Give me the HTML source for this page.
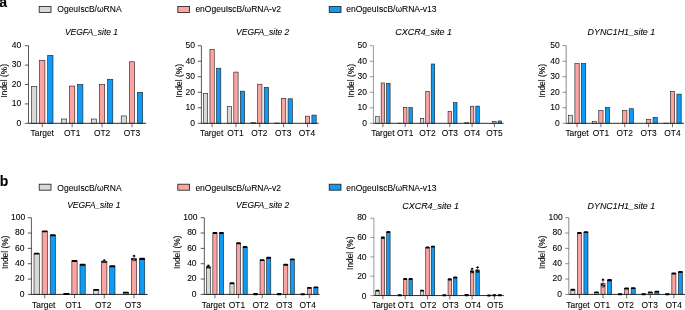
<!DOCTYPE html>
<html><head><meta charset="utf-8"><title>Indel figure</title>
<style>
html,body{margin:0;padding:0;background:#fff;}
svg{display:block;font-family:"Liberation Sans",Arial,sans-serif;fill:#000;}
text{stroke:#000;stroke-width:0.08px;}
</style></head><body>
<svg width="685" height="310" viewBox="0 0 685 310">
<rect x="0" y="0" width="685" height="310" fill="#fff"/>
<rect x="31.50" y="86.44" width="5.30" height="36.86" fill="#d8d8d7" stroke="#1a1a1a" stroke-width="0.6"/>
<rect x="39.60" y="60.25" width="5.30" height="63.05" fill="#faa4a4" stroke="#1a1a1a" stroke-width="0.6"/>
<rect x="47.70" y="55.40" width="5.30" height="67.90" fill="#109af4" stroke="#1a1a1a" stroke-width="0.6"/>
<rect x="61.40" y="119.03" width="5.30" height="4.27" fill="#d8d8d7" stroke="#1a1a1a" stroke-width="0.6"/>
<rect x="69.50" y="86.05" width="5.30" height="37.25" fill="#faa4a4" stroke="#1a1a1a" stroke-width="0.6"/>
<rect x="77.60" y="84.50" width="5.30" height="38.80" fill="#109af4" stroke="#1a1a1a" stroke-width="0.6"/>
<rect x="91.30" y="119.03" width="5.30" height="4.27" fill="#d8d8d7" stroke="#1a1a1a" stroke-width="0.6"/>
<rect x="99.40" y="84.50" width="5.30" height="38.80" fill="#faa4a4" stroke="#1a1a1a" stroke-width="0.6"/>
<rect x="107.50" y="79.26" width="5.30" height="44.04" fill="#109af4" stroke="#1a1a1a" stroke-width="0.6"/>
<rect x="121.20" y="115.93" width="5.30" height="7.37" fill="#d8d8d7" stroke="#1a1a1a" stroke-width="0.6"/>
<rect x="129.30" y="61.80" width="5.30" height="61.50" fill="#faa4a4" stroke="#1a1a1a" stroke-width="0.6"/>
<rect x="137.40" y="92.26" width="5.30" height="31.04" fill="#109af4" stroke="#1a1a1a" stroke-width="0.6"/>
<path d="M28.10 123.30H146.10" stroke="#222" stroke-width="0.95" fill="none"/>
<text x="21.20" y="125.65" font-size="8.5" text-anchor="end" >0</text>
<text x="21.20" y="106.25" font-size="8.5" text-anchor="end" >10</text>
<text x="21.20" y="86.85" font-size="8.5" text-anchor="end" >20</text>
<text x="21.20" y="67.45" font-size="8.5" text-anchor="end" >30</text>
<text x="21.20" y="48.05" font-size="8.5" text-anchor="end" >40</text>
<text x="42.25" y="136.20" font-size="8.4" text-anchor="middle" >Target</text>
<text x="72.15" y="136.20" font-size="8.4" text-anchor="middle" >OT1</text>
<text x="102.05" y="136.20" font-size="8.4" text-anchor="middle" >OT2</text>
<text x="131.95" y="136.20" font-size="8.4" text-anchor="middle" >OT3</text>
<path d="M28.50 45.70V123.30M24.90 123.30H28.50M24.90 103.90H28.50M24.90 84.50H28.50M24.90 65.10H28.50M24.90 45.70H28.50" stroke="#222" stroke-width="0.75" fill="none"/>
<path d="M42.25 123.30v3.9M72.15 123.30v3.9M102.05 123.30v3.9M131.95 123.30v3.9" stroke="#4a4448" stroke-width="0.8" fill="none"/>
<text x="91.50" y="34.80" font-size="8.5" text-anchor="middle" font-style="italic">VEGFA_site 1</text>
<text transform="translate(7.00 80.80) rotate(-90)" font-size="8.4" text-anchor="middle">Indel (%)</text>
<rect x="203.40" y="93.50" width="4.30" height="29.80" fill="#d8d8d7" stroke="#1a1a1a" stroke-width="0.6"/>
<rect x="209.95" y="49.58" width="4.30" height="73.72" fill="#faa4a4" stroke="#1a1a1a" stroke-width="0.6"/>
<rect x="216.50" y="68.20" width="4.30" height="55.10" fill="#109af4" stroke="#1a1a1a" stroke-width="0.6"/>
<rect x="227.25" y="106.54" width="4.30" height="16.76" fill="#d8d8d7" stroke="#1a1a1a" stroke-width="0.6"/>
<rect x="233.80" y="72.08" width="4.30" height="51.22" fill="#faa4a4" stroke="#1a1a1a" stroke-width="0.6"/>
<rect x="240.35" y="91.17" width="4.30" height="32.13" fill="#109af4" stroke="#1a1a1a" stroke-width="0.6"/>
<rect x="251.10" y="122.37" width="4.30" height="0.93" fill="#d8d8d7" stroke="#1a1a1a" stroke-width="0.6"/>
<rect x="257.65" y="84.19" width="4.30" height="39.11" fill="#faa4a4" stroke="#1a1a1a" stroke-width="0.6"/>
<rect x="264.20" y="87.29" width="4.30" height="36.01" fill="#109af4" stroke="#1a1a1a" stroke-width="0.6"/>
<rect x="274.95" y="122.99" width="4.30" height="0.31" fill="#d8d8d7" stroke="#1a1a1a" stroke-width="0.6"/>
<rect x="281.50" y="98.47" width="4.30" height="24.83" fill="#faa4a4" stroke="#1a1a1a" stroke-width="0.6"/>
<rect x="288.05" y="98.78" width="4.30" height="24.52" fill="#109af4" stroke="#1a1a1a" stroke-width="0.6"/>
<rect x="305.35" y="116.16" width="4.30" height="7.14" fill="#faa4a4" stroke="#1a1a1a" stroke-width="0.6"/>
<rect x="311.90" y="115.07" width="4.30" height="8.23" fill="#109af4" stroke="#1a1a1a" stroke-width="0.6"/>
<path d="M201.00 123.30H318.60" stroke="#222" stroke-width="0.95" fill="none"/>
<text x="194.90" y="125.65" font-size="8.5" text-anchor="end" >0</text>
<text x="194.90" y="110.13" font-size="8.5" text-anchor="end" >10</text>
<text x="194.90" y="94.61" font-size="8.5" text-anchor="end" >20</text>
<text x="194.90" y="79.09" font-size="8.5" text-anchor="end" >30</text>
<text x="194.90" y="63.57" font-size="8.5" text-anchor="end" >40</text>
<text x="194.90" y="48.05" font-size="8.5" text-anchor="end" >50</text>
<text x="211.60" y="136.20" font-size="8.4" text-anchor="middle" >Target</text>
<text x="235.45" y="136.20" font-size="8.4" text-anchor="middle" >OT1</text>
<text x="259.30" y="136.20" font-size="8.4" text-anchor="middle" >OT2</text>
<text x="283.15" y="136.20" font-size="8.4" text-anchor="middle" >OT3</text>
<text x="307.00" y="136.20" font-size="8.4" text-anchor="middle" >OT4</text>
<path d="M201.40 45.70V123.30M197.80 123.30H201.40M197.80 107.78H201.40M197.80 92.26H201.40M197.80 76.74H201.40M197.80 61.22H201.40M197.80 45.70H201.40" stroke="#222" stroke-width="0.75" fill="none"/>
<path d="M212.10 123.30v3.9M235.95 123.30v3.9M259.80 123.30v3.9M283.65 123.30v3.9M307.50 123.30v3.9" stroke="#4a4448" stroke-width="0.8" fill="none"/>
<text x="262.70" y="34.80" font-size="8.5" text-anchor="middle" font-style="italic">VEGFA_site 2</text>
<text transform="translate(181.50 80.80) rotate(-90)" font-size="8.4" text-anchor="middle">Indel (%)</text>
<rect x="375.70" y="116.63" width="3.50" height="6.67" fill="#d8d8d7" stroke="#1a1a1a" stroke-width="0.6"/>
<rect x="381.15" y="82.95" width="3.50" height="40.35" fill="#faa4a4" stroke="#1a1a1a" stroke-width="0.6"/>
<rect x="386.60" y="83.41" width="3.50" height="39.89" fill="#109af4" stroke="#1a1a1a" stroke-width="0.6"/>
<rect x="398.00" y="123.14" width="3.50" height="0.16" fill="#d8d8d7" stroke="#1a1a1a" stroke-width="0.6"/>
<rect x="403.45" y="107.31" width="3.50" height="15.99" fill="#faa4a4" stroke="#1a1a1a" stroke-width="0.6"/>
<rect x="408.90" y="107.62" width="3.50" height="15.68" fill="#109af4" stroke="#1a1a1a" stroke-width="0.6"/>
<rect x="420.30" y="118.49" width="3.50" height="4.81" fill="#d8d8d7" stroke="#1a1a1a" stroke-width="0.6"/>
<rect x="425.75" y="91.33" width="3.50" height="31.97" fill="#faa4a4" stroke="#1a1a1a" stroke-width="0.6"/>
<rect x="431.20" y="64.01" width="3.50" height="59.29" fill="#109af4" stroke="#1a1a1a" stroke-width="0.6"/>
<rect x="448.05" y="111.35" width="3.50" height="11.95" fill="#faa4a4" stroke="#1a1a1a" stroke-width="0.6"/>
<rect x="453.50" y="102.66" width="3.50" height="20.64" fill="#109af4" stroke="#1a1a1a" stroke-width="0.6"/>
<rect x="464.90" y="122.52" width="3.50" height="0.78" fill="#d8d8d7" stroke="#1a1a1a" stroke-width="0.6"/>
<rect x="470.35" y="106.23" width="3.50" height="17.07" fill="#faa4a4" stroke="#1a1a1a" stroke-width="0.6"/>
<rect x="475.80" y="106.07" width="3.50" height="17.23" fill="#109af4" stroke="#1a1a1a" stroke-width="0.6"/>
<rect x="492.65" y="121.28" width="3.50" height="2.02" fill="#faa4a4" stroke="#1a1a1a" stroke-width="0.6"/>
<rect x="498.10" y="120.97" width="3.50" height="2.33" fill="#109af4" stroke="#1a1a1a" stroke-width="0.6"/>
<path d="M373.00 123.30H503.50" stroke="#222" stroke-width="0.95" fill="none"/>
<text x="366.90" y="125.65" font-size="8.5" text-anchor="end" >0</text>
<text x="366.90" y="110.13" font-size="8.5" text-anchor="end" >10</text>
<text x="366.90" y="94.61" font-size="8.5" text-anchor="end" >20</text>
<text x="366.90" y="79.09" font-size="8.5" text-anchor="end" >30</text>
<text x="366.90" y="63.57" font-size="8.5" text-anchor="end" >40</text>
<text x="366.90" y="48.05" font-size="8.5" text-anchor="end" >50</text>
<text x="382.90" y="136.20" font-size="8.4" text-anchor="middle" >Target</text>
<text x="405.20" y="136.20" font-size="8.4" text-anchor="middle" >OT1</text>
<text x="427.50" y="136.20" font-size="8.4" text-anchor="middle" >OT2</text>
<text x="449.80" y="136.20" font-size="8.4" text-anchor="middle" >OT3</text>
<text x="472.10" y="136.20" font-size="8.4" text-anchor="middle" >OT4</text>
<text x="494.40" y="136.20" font-size="8.4" text-anchor="middle" >OT5</text>
<path d="M373.40 45.70V123.30M369.80 123.30H373.40M369.80 107.78H373.40M369.80 92.26H373.40M369.80 76.74H373.40M369.80 61.22H373.40M369.80 45.70H373.40" stroke="#777" stroke-width="0.75" fill="none"/>
<path d="M382.90 123.30v3.9M405.20 123.30v3.9M427.50 123.30v3.9M449.80 123.30v3.9M472.10 123.30v3.9M494.40 123.30v3.9" stroke="#4a4448" stroke-width="0.8" fill="none"/>
<text x="423.65" y="35.30" font-size="8.95" text-anchor="middle" font-style="italic">CXCR4_site 1</text>
<text transform="translate(353.70 80.80) rotate(-90)" font-size="8.4" text-anchor="middle">Indel (%)</text>
<rect x="568.35" y="115.23" width="4.30" height="8.07" fill="#d8d8d7" stroke="#1a1a1a" stroke-width="0.6"/>
<rect x="574.90" y="63.55" width="4.30" height="59.75" fill="#faa4a4" stroke="#1a1a1a" stroke-width="0.6"/>
<rect x="581.45" y="63.55" width="4.30" height="59.75" fill="#109af4" stroke="#1a1a1a" stroke-width="0.6"/>
<rect x="592.21" y="121.44" width="4.30" height="1.86" fill="#d8d8d7" stroke="#1a1a1a" stroke-width="0.6"/>
<rect x="598.76" y="110.57" width="4.30" height="12.73" fill="#faa4a4" stroke="#1a1a1a" stroke-width="0.6"/>
<rect x="605.31" y="107.31" width="4.30" height="15.99" fill="#109af4" stroke="#1a1a1a" stroke-width="0.6"/>
<rect x="622.62" y="110.42" width="4.30" height="12.88" fill="#faa4a4" stroke="#1a1a1a" stroke-width="0.6"/>
<rect x="629.17" y="108.71" width="4.30" height="14.59" fill="#109af4" stroke="#1a1a1a" stroke-width="0.6"/>
<rect x="646.48" y="119.26" width="4.30" height="4.04" fill="#faa4a4" stroke="#1a1a1a" stroke-width="0.6"/>
<rect x="653.03" y="117.40" width="4.30" height="5.90" fill="#109af4" stroke="#1a1a1a" stroke-width="0.6"/>
<rect x="663.79" y="123.14" width="4.30" height="0.16" fill="#d8d8d7" stroke="#1a1a1a" stroke-width="0.6"/>
<rect x="670.34" y="91.33" width="4.30" height="31.97" fill="#faa4a4" stroke="#1a1a1a" stroke-width="0.6"/>
<rect x="676.89" y="94.12" width="4.30" height="29.18" fill="#109af4" stroke="#1a1a1a" stroke-width="0.6"/>
<path d="M565.80 123.30H684.00" stroke="#222" stroke-width="0.95" fill="none"/>
<text x="559.80" y="125.65" font-size="8.5" text-anchor="end" >0</text>
<text x="559.80" y="110.13" font-size="8.5" text-anchor="end" >10</text>
<text x="559.80" y="94.61" font-size="8.5" text-anchor="end" >20</text>
<text x="559.80" y="79.09" font-size="8.5" text-anchor="end" >30</text>
<text x="559.80" y="63.57" font-size="8.5" text-anchor="end" >40</text>
<text x="559.80" y="48.05" font-size="8.5" text-anchor="end" >50</text>
<text x="577.05" y="136.20" font-size="8.4" text-anchor="middle" >Target</text>
<text x="600.91" y="136.20" font-size="8.4" text-anchor="middle" >OT1</text>
<text x="624.77" y="136.20" font-size="8.4" text-anchor="middle" >OT2</text>
<text x="648.63" y="136.20" font-size="8.4" text-anchor="middle" >OT3</text>
<text x="672.49" y="136.20" font-size="8.4" text-anchor="middle" >OT4</text>
<path d="M566.20 45.70V123.30M562.60 123.30H566.20M562.60 107.78H566.20M562.60 92.26H566.20M562.60 76.74H566.20M562.60 61.22H566.20M562.60 45.70H566.20" stroke="#666" stroke-width="0.75" fill="none"/>
<path d="M577.05 123.30v3.9M600.91 123.30v3.9M624.77 123.30v3.9M648.63 123.30v3.9M672.49 123.30v3.9" stroke="#4a4448" stroke-width="0.8" fill="none"/>
<text x="621.40" y="35.30" font-size="8.9" text-anchor="middle" font-style="italic">DYNC1H1_site 1</text>
<text transform="translate(545.30 80.80) rotate(-90)" font-size="8.4" text-anchor="middle">Indel (%)</text>
<rect x="34.00" y="253.75" width="5.30" height="40.65" fill="#d8d8d7" stroke="#1a1a1a" stroke-width="0.6"/>
<rect x="33.80" y="252.87" width="5.70" height="1.73" rx="0.8" fill="#000"/>
<rect x="42.10" y="231.51" width="5.30" height="62.89" fill="#faa4a4" stroke="#1a1a1a" stroke-width="0.6"/>
<rect x="41.90" y="230.62" width="5.70" height="1.73" rx="0.8" fill="#000"/>
<rect x="50.20" y="235.34" width="5.30" height="59.06" fill="#109af4" stroke="#1a1a1a" stroke-width="0.6"/>
<rect x="50.00" y="234.23" width="5.70" height="1.96" rx="0.8" fill="#000"/>
<rect x="63.75" y="293.48" width="5.30" height="0.92" fill="#d8d8d7" stroke="#1a1a1a" stroke-width="0.6"/>
<rect x="71.85" y="261.04" width="5.30" height="33.36" fill="#faa4a4" stroke="#1a1a1a" stroke-width="0.6"/>
<rect x="71.65" y="259.92" width="5.70" height="1.96" rx="0.8" fill="#000"/>
<rect x="79.95" y="264.87" width="5.30" height="29.53" fill="#109af4" stroke="#1a1a1a" stroke-width="0.6"/>
<rect x="79.75" y="263.76" width="5.70" height="1.96" rx="0.8" fill="#000"/>
<rect x="93.50" y="289.95" width="5.30" height="4.45" fill="#d8d8d7" stroke="#1a1a1a" stroke-width="0.6"/>
<rect x="93.30" y="289.07" width="5.70" height="1.73" rx="0.8" fill="#000"/>
<rect x="101.60" y="261.42" width="5.30" height="32.98" fill="#faa4a4" stroke="#1a1a1a" stroke-width="0.6"/>
<path d="M104.25 260.27V262.57M102.65 260.27h3.2M102.65 262.57h3.2" stroke="#000" stroke-width="0.6" fill="none"/>
<circle cx="104.25" cy="260.10" r="0.95" fill="#000"/>
<circle cx="102.65" cy="261.82" r="0.95" fill="#000"/>
<circle cx="105.85" cy="262.11" r="0.95" fill="#000"/>
<rect x="109.70" y="266.40" width="5.30" height="28.00" fill="#109af4" stroke="#1a1a1a" stroke-width="0.6"/>
<rect x="109.50" y="265.14" width="5.70" height="2.12" rx="0.8" fill="#000"/>
<rect x="123.25" y="292.64" width="5.30" height="1.76" fill="#d8d8d7" stroke="#1a1a1a" stroke-width="0.6"/>
<rect x="123.05" y="291.75" width="5.70" height="1.73" rx="0.8" fill="#000"/>
<rect x="131.35" y="258.35" width="5.30" height="36.05" fill="#faa4a4" stroke="#1a1a1a" stroke-width="0.6"/>
<path d="M134.00 256.05V260.65M132.40 256.05h3.2M132.40 260.65h3.2" stroke="#000" stroke-width="0.6" fill="none"/>
<circle cx="134.00" cy="255.70" r="0.95" fill="#000"/>
<circle cx="132.40" cy="259.16" r="0.95" fill="#000"/>
<circle cx="135.60" cy="259.73" r="0.95" fill="#000"/>
<rect x="139.45" y="259.12" width="5.30" height="35.28" fill="#109af4" stroke="#1a1a1a" stroke-width="0.6"/>
<rect x="139.25" y="257.85" width="5.70" height="2.12" rx="0.8" fill="#000"/>
<path d="M31.00 294.40H147.70" stroke="#222" stroke-width="0.95" fill="none"/>
<text x="24.50" y="296.75" font-size="8.5" text-anchor="end" >0</text>
<text x="24.50" y="281.41" font-size="8.5" text-anchor="end" >20</text>
<text x="24.50" y="266.07" font-size="8.5" text-anchor="end" >40</text>
<text x="24.50" y="250.73" font-size="8.5" text-anchor="end" >60</text>
<text x="24.50" y="235.39" font-size="8.5" text-anchor="end" >80</text>
<text x="25.30" y="220.05" font-size="8.5" text-anchor="end" >100</text>
<text x="43.75" y="308.20" font-size="8.4" text-anchor="middle" >Target</text>
<text x="73.50" y="308.20" font-size="8.4" text-anchor="middle" >OT1</text>
<text x="103.25" y="308.20" font-size="8.4" text-anchor="middle" >OT2</text>
<text x="133.00" y="308.20" font-size="8.4" text-anchor="middle" >OT3</text>
<path d="M31.40 217.70V294.40M27.80 294.40H31.40M27.80 279.06H31.40M27.80 263.72H31.40M27.80 248.38H31.40M27.80 233.04H31.40M27.80 217.70H31.40" stroke="#222" stroke-width="0.75" fill="none"/>
<path d="M44.75 294.40v3.9M74.50 294.40v3.9M104.25 294.40v3.9M134.00 294.40v3.9" stroke="#4a4448" stroke-width="0.8" fill="none"/>
<rect x="63.65" y="292.94" width="5.50" height="2.18" rx="0.9" fill="#000"/>
<text x="93.80" y="208.30" font-size="8.5" text-anchor="middle" font-style="italic">VEGFA_site 1</text>
<text transform="translate(7.50 252.35) rotate(-90)" font-size="8.4" text-anchor="middle">Indel (%)</text>
<rect x="206.30" y="266.79" width="4.20" height="27.61" fill="#d8d8d7" stroke="#1a1a1a" stroke-width="0.6"/>
<path d="M208.40 265.64V267.94M206.80 265.64h3.2M206.80 267.94h3.2" stroke="#000" stroke-width="0.6" fill="none"/>
<circle cx="208.40" cy="265.46" r="0.95" fill="#000"/>
<circle cx="207.20" cy="267.19" r="0.95" fill="#000"/>
<circle cx="209.60" cy="267.48" r="0.95" fill="#000"/>
<rect x="212.85" y="233.04" width="4.20" height="61.36" fill="#faa4a4" stroke="#1a1a1a" stroke-width="0.6"/>
<rect x="212.65" y="231.93" width="4.60" height="1.96" rx="0.8" fill="#000"/>
<rect x="219.40" y="233.04" width="4.20" height="61.36" fill="#109af4" stroke="#1a1a1a" stroke-width="0.6"/>
<rect x="219.20" y="231.93" width="4.60" height="1.96" rx="0.8" fill="#000"/>
<rect x="229.90" y="283.28" width="4.20" height="11.12" fill="#d8d8d7" stroke="#1a1a1a" stroke-width="0.6"/>
<rect x="229.70" y="282.32" width="4.60" height="1.81" rx="0.8" fill="#000"/>
<rect x="236.45" y="243.39" width="4.20" height="51.01" fill="#faa4a4" stroke="#1a1a1a" stroke-width="0.6"/>
<rect x="236.25" y="242.28" width="4.60" height="1.96" rx="0.8" fill="#000"/>
<rect x="243.00" y="247.23" width="4.20" height="47.17" fill="#109af4" stroke="#1a1a1a" stroke-width="0.6"/>
<rect x="242.80" y="246.12" width="4.60" height="1.96" rx="0.8" fill="#000"/>
<rect x="253.50" y="293.79" width="4.20" height="0.61" fill="#d8d8d7" stroke="#1a1a1a" stroke-width="0.6"/>
<rect x="260.05" y="260.27" width="4.20" height="34.13" fill="#faa4a4" stroke="#1a1a1a" stroke-width="0.6"/>
<rect x="259.85" y="259.15" width="4.60" height="1.96" rx="0.8" fill="#000"/>
<rect x="266.60" y="257.97" width="4.20" height="36.43" fill="#109af4" stroke="#1a1a1a" stroke-width="0.6"/>
<rect x="266.40" y="256.70" width="4.60" height="2.12" rx="0.8" fill="#000"/>
<rect x="277.10" y="293.79" width="4.20" height="0.61" fill="#d8d8d7" stroke="#1a1a1a" stroke-width="0.6"/>
<rect x="283.65" y="264.87" width="4.20" height="29.53" fill="#faa4a4" stroke="#1a1a1a" stroke-width="0.6"/>
<rect x="283.45" y="263.76" width="4.60" height="1.96" rx="0.8" fill="#000"/>
<rect x="290.20" y="259.50" width="4.20" height="34.90" fill="#109af4" stroke="#1a1a1a" stroke-width="0.6"/>
<rect x="290.00" y="258.39" width="4.60" height="1.96" rx="0.8" fill="#000"/>
<rect x="300.70" y="294.17" width="4.20" height="0.23" fill="#d8d8d7" stroke="#1a1a1a" stroke-width="0.6"/>
<rect x="307.25" y="287.88" width="4.20" height="6.52" fill="#faa4a4" stroke="#1a1a1a" stroke-width="0.6"/>
<rect x="307.05" y="286.92" width="4.60" height="1.81" rx="0.8" fill="#000"/>
<rect x="313.80" y="287.50" width="4.20" height="6.90" fill="#109af4" stroke="#1a1a1a" stroke-width="0.6"/>
<rect x="313.60" y="286.38" width="4.60" height="1.96" rx="0.8" fill="#000"/>
<path d="M203.90 294.40H319.60" stroke="#222" stroke-width="0.95" fill="none"/>
<text x="196.60" y="296.75" font-size="8.5" text-anchor="end" >0</text>
<text x="196.60" y="281.41" font-size="8.5" text-anchor="end" >20</text>
<text x="196.60" y="266.07" font-size="8.5" text-anchor="end" >40</text>
<text x="196.60" y="250.73" font-size="8.5" text-anchor="end" >60</text>
<text x="196.60" y="235.39" font-size="8.5" text-anchor="end" >80</text>
<text x="197.40" y="220.05" font-size="8.5" text-anchor="end" >100</text>
<text x="213.35" y="308.20" font-size="8.4" text-anchor="middle" >Target</text>
<text x="236.95" y="308.20" font-size="8.4" text-anchor="middle" >OT1</text>
<text x="260.55" y="308.20" font-size="8.4" text-anchor="middle" >OT2</text>
<text x="284.15" y="308.20" font-size="8.4" text-anchor="middle" >OT3</text>
<text x="307.75" y="308.20" font-size="8.4" text-anchor="middle" >OT4</text>
<path d="M204.30 217.70V294.40M200.70 294.40H204.30M200.70 279.06H204.30M200.70 263.72H204.30M200.70 248.38H204.30M200.70 233.04H204.30M200.70 217.70H204.30" stroke="#222" stroke-width="0.75" fill="none"/>
<path d="M214.95 294.40v3.9M238.55 294.40v3.9M262.15 294.40v3.9M285.75 294.40v3.9M309.35 294.40v3.9" stroke="#4a4448" stroke-width="0.8" fill="none"/>
<rect x="253.40" y="293.09" width="4.40" height="2.08" rx="0.9" fill="#000"/>
<rect x="277.00" y="293.09" width="4.40" height="2.08" rx="0.9" fill="#000"/>
<rect x="300.60" y="293.28" width="4.40" height="1.97" rx="0.9" fill="#000"/>
<text x="262.70" y="208.30" font-size="8.5" text-anchor="middle" font-style="italic">VEGFA_site 2</text>
<text transform="translate(179.60 252.35) rotate(-90)" font-size="8.4" text-anchor="middle">Indel (%)</text>
<rect x="375.70" y="290.72" width="3.50" height="4.83" fill="#d8d8d7" stroke="#1a1a1a" stroke-width="0.6"/>
<rect x="375.50" y="289.73" width="3.90" height="1.83" rx="0.8" fill="#000"/>
<rect x="381.15" y="238.02" width="3.50" height="57.53" fill="#faa4a4" stroke="#1a1a1a" stroke-width="0.6"/>
<rect x="380.95" y="236.55" width="3.90" height="2.32" rx="0.8" fill="#000"/>
<rect x="386.60" y="232.22" width="3.50" height="63.33" fill="#109af4" stroke="#1a1a1a" stroke-width="0.6"/>
<rect x="386.40" y="230.95" width="3.90" height="2.12" rx="0.8" fill="#000"/>
<rect x="398.00" y="294.87" width="3.50" height="0.68" fill="#d8d8d7" stroke="#1a1a1a" stroke-width="0.6"/>
<rect x="403.45" y="279.11" width="3.50" height="16.44" fill="#faa4a4" stroke="#1a1a1a" stroke-width="0.6"/>
<rect x="403.25" y="278.03" width="3.90" height="1.93" rx="0.8" fill="#000"/>
<rect x="408.90" y="279.11" width="3.50" height="16.44" fill="#109af4" stroke="#1a1a1a" stroke-width="0.6"/>
<rect x="408.70" y="278.03" width="3.90" height="1.93" rx="0.8" fill="#000"/>
<rect x="420.30" y="290.72" width="3.50" height="4.83" fill="#d8d8d7" stroke="#1a1a1a" stroke-width="0.6"/>
<rect x="420.10" y="289.73" width="3.90" height="1.83" rx="0.8" fill="#000"/>
<rect x="425.75" y="247.69" width="3.50" height="47.86" fill="#faa4a4" stroke="#1a1a1a" stroke-width="0.6"/>
<rect x="425.55" y="246.61" width="3.90" height="1.93" rx="0.8" fill="#000"/>
<rect x="431.20" y="246.72" width="3.50" height="48.83" fill="#109af4" stroke="#1a1a1a" stroke-width="0.6"/>
<rect x="431.00" y="245.64" width="3.90" height="1.93" rx="0.8" fill="#000"/>
<rect x="442.60" y="295.07" width="3.50" height="0.48" fill="#d8d8d7" stroke="#1a1a1a" stroke-width="0.6"/>
<rect x="448.05" y="279.60" width="3.50" height="15.95" fill="#faa4a4" stroke="#1a1a1a" stroke-width="0.6"/>
<rect x="447.85" y="278.32" width="3.90" height="2.12" rx="0.8" fill="#000"/>
<rect x="453.50" y="277.66" width="3.50" height="17.89" fill="#109af4" stroke="#1a1a1a" stroke-width="0.6"/>
<rect x="453.30" y="276.58" width="3.90" height="1.93" rx="0.8" fill="#000"/>
<rect x="464.90" y="294.58" width="3.50" height="0.97" fill="#d8d8d7" stroke="#1a1a1a" stroke-width="0.6"/>
<rect x="470.35" y="270.89" width="3.50" height="24.66" fill="#faa4a4" stroke="#1a1a1a" stroke-width="0.6"/>
<path d="M472.10 268.96V272.83M470.50 268.96h3.2M470.50 272.83h3.2" stroke="#000" stroke-width="0.6" fill="none"/>
<circle cx="472.10" cy="268.67" r="0.95" fill="#000"/>
<circle cx="471.25" cy="271.57" r="0.95" fill="#000"/>
<circle cx="472.95" cy="272.05" r="0.95" fill="#000"/>
<rect x="475.80" y="269.93" width="3.50" height="25.62" fill="#109af4" stroke="#1a1a1a" stroke-width="0.6"/>
<path d="M477.55 267.51V272.35M475.95 267.51h3.2M475.95 272.35h3.2" stroke="#000" stroke-width="0.6" fill="none"/>
<circle cx="477.55" cy="267.15" r="0.95" fill="#000"/>
<circle cx="476.70" cy="270.77" r="0.95" fill="#000"/>
<circle cx="478.40" cy="271.38" r="0.95" fill="#000"/>
<rect x="487.20" y="295.26" width="3.50" height="0.29" fill="#d8d8d7" stroke="#1a1a1a" stroke-width="0.6"/>
<rect x="492.65" y="295.07" width="3.50" height="0.48" fill="#faa4a4" stroke="#1a1a1a" stroke-width="0.6"/>
<rect x="498.10" y="294.87" width="3.50" height="0.68" fill="#109af4" stroke="#1a1a1a" stroke-width="0.6"/>
<path d="M373.50 295.55H503.70" stroke="#222" stroke-width="0.95" fill="none"/>
<text x="366.60" y="299.05" font-size="8.5" text-anchor="end" >0</text>
<text x="366.60" y="279.30" font-size="8.5" text-anchor="end" >20</text>
<text x="366.60" y="259.55" font-size="8.5" text-anchor="end" >40</text>
<text x="366.60" y="239.80" font-size="8.5" text-anchor="end" >60</text>
<text x="366.60" y="220.05" font-size="8.5" text-anchor="end" >80</text>
<text x="383.60" y="308.20" font-size="8.4" text-anchor="middle" >Target</text>
<text x="405.90" y="308.20" font-size="8.4" text-anchor="middle" >OT1</text>
<text x="428.20" y="308.20" font-size="8.4" text-anchor="middle" >OT2</text>
<text x="450.50" y="308.20" font-size="8.4" text-anchor="middle" >OT3</text>
<text x="472.80" y="308.20" font-size="8.4" text-anchor="middle" >OT4</text>
<text x="495.10" y="308.20" font-size="8.4" text-anchor="middle" >OT5</text>
<path d="M373.90 218.20V295.55M370.30 295.55H373.90M370.30 276.21H373.90M370.30 256.88H373.90M370.30 237.54H373.90M370.30 218.20H373.90" stroke="#777" stroke-width="0.75" fill="none"/>
<path d="M382.90 295.55v3.9M405.20 295.55v3.9M427.50 295.55v3.9M449.80 295.55v3.9M472.10 295.55v3.9M494.40 295.55v3.9" stroke="#4a4448" stroke-width="0.8" fill="none"/>
<rect x="397.90" y="294.21" width="3.70" height="2.10" rx="0.9" fill="#000"/>
<rect x="442.50" y="294.31" width="3.70" height="2.05" rx="0.9" fill="#000"/>
<rect x="464.80" y="294.07" width="3.70" height="2.19" rx="0.9" fill="#000"/>
<rect x="487.10" y="294.40" width="3.70" height="1.99" rx="0.9" fill="#000"/>
<rect x="492.55" y="294.31" width="3.70" height="2.05" rx="0.9" fill="#000"/>
<rect x="498.00" y="294.21" width="3.70" height="2.10" rx="0.9" fill="#000"/>
<text x="430.60" y="209.20" font-size="8.95" text-anchor="middle" font-style="italic">CXCR4_site 1</text>
<text transform="translate(353.30 253.18) rotate(-90)" font-size="8.4" text-anchor="middle">Indel (%)</text>
<rect x="570.80" y="289.80" width="4.10" height="4.60" fill="#d8d8d7" stroke="#1a1a1a" stroke-width="0.6"/>
<rect x="570.60" y="288.84" width="4.50" height="1.81" rx="0.8" fill="#000"/>
<rect x="577.35" y="233.04" width="4.10" height="61.36" fill="#faa4a4" stroke="#1a1a1a" stroke-width="0.6"/>
<rect x="577.15" y="231.93" width="4.50" height="1.96" rx="0.8" fill="#000"/>
<rect x="583.90" y="232.27" width="4.10" height="62.13" fill="#109af4" stroke="#1a1a1a" stroke-width="0.6"/>
<rect x="583.70" y="231.16" width="4.50" height="1.96" rx="0.8" fill="#000"/>
<rect x="594.42" y="292.48" width="4.10" height="1.92" fill="#d8d8d7" stroke="#1a1a1a" stroke-width="0.6"/>
<rect x="594.22" y="291.60" width="4.50" height="1.73" rx="0.8" fill="#000"/>
<rect x="600.97" y="283.51" width="4.10" height="10.89" fill="#faa4a4" stroke="#1a1a1a" stroke-width="0.6"/>
<path d="M603.02 280.06V286.96M601.42 280.06h3.2M601.42 286.96h3.2" stroke="#000" stroke-width="0.6" fill="none"/>
<circle cx="603.02" cy="279.54" r="0.95" fill="#000"/>
<circle cx="601.87" cy="284.72" r="0.95" fill="#000"/>
<circle cx="604.17" cy="285.58" r="0.95" fill="#000"/>
<rect x="607.52" y="280.36" width="4.10" height="14.04" fill="#109af4" stroke="#1a1a1a" stroke-width="0.6"/>
<rect x="607.32" y="279.02" width="4.50" height="2.19" rx="0.8" fill="#000"/>
<rect x="618.04" y="294.02" width="4.10" height="0.38" fill="#d8d8d7" stroke="#1a1a1a" stroke-width="0.6"/>
<rect x="624.59" y="288.65" width="4.10" height="5.75" fill="#faa4a4" stroke="#1a1a1a" stroke-width="0.6"/>
<rect x="624.39" y="287.53" width="4.50" height="1.96" rx="0.8" fill="#000"/>
<rect x="631.14" y="288.26" width="4.10" height="6.14" fill="#109af4" stroke="#1a1a1a" stroke-width="0.6"/>
<rect x="630.94" y="287.15" width="4.50" height="1.96" rx="0.8" fill="#000"/>
<rect x="641.66" y="294.02" width="4.10" height="0.38" fill="#d8d8d7" stroke="#1a1a1a" stroke-width="0.6"/>
<rect x="648.21" y="292.48" width="4.10" height="1.92" fill="#faa4a4" stroke="#1a1a1a" stroke-width="0.6"/>
<rect x="648.01" y="291.52" width="4.50" height="1.81" rx="0.8" fill="#000"/>
<rect x="654.76" y="291.72" width="4.10" height="2.68" fill="#109af4" stroke="#1a1a1a" stroke-width="0.6"/>
<rect x="654.56" y="290.76" width="4.50" height="1.81" rx="0.8" fill="#000"/>
<rect x="665.28" y="294.02" width="4.10" height="0.38" fill="#d8d8d7" stroke="#1a1a1a" stroke-width="0.6"/>
<rect x="671.83" y="273.69" width="4.10" height="20.71" fill="#faa4a4" stroke="#1a1a1a" stroke-width="0.6"/>
<rect x="671.63" y="272.58" width="4.50" height="1.96" rx="0.8" fill="#000"/>
<rect x="678.38" y="272.16" width="4.10" height="22.24" fill="#109af4" stroke="#1a1a1a" stroke-width="0.6"/>
<rect x="678.18" y="270.89" width="4.50" height="2.12" rx="0.8" fill="#000"/>
<path d="M568.40 294.40H686.00" stroke="#222" stroke-width="0.95" fill="none"/>
<text x="561.90" y="296.75" font-size="8.5" text-anchor="end" >0</text>
<text x="561.90" y="281.41" font-size="8.5" text-anchor="end" >20</text>
<text x="561.90" y="266.07" font-size="8.5" text-anchor="end" >40</text>
<text x="561.90" y="250.73" font-size="8.5" text-anchor="end" >60</text>
<text x="561.90" y="235.39" font-size="8.5" text-anchor="end" >80</text>
<text x="562.70" y="220.05" font-size="8.5" text-anchor="end" >100</text>
<text x="578.00" y="308.20" font-size="8.4" text-anchor="middle" >Target</text>
<text x="601.92" y="308.20" font-size="8.4" text-anchor="middle" >OT1</text>
<text x="625.84" y="308.20" font-size="8.4" text-anchor="middle" >OT2</text>
<text x="649.76" y="308.20" font-size="8.4" text-anchor="middle" >OT3</text>
<text x="673.68" y="308.20" font-size="8.4" text-anchor="middle" >OT4</text>
<path d="M568.80 217.70V294.40M565.20 294.40H568.80M565.20 279.06H568.80M565.20 263.72H568.80M565.20 248.38H568.80M565.20 233.04H568.80M565.20 217.70H568.80" stroke="#666" stroke-width="0.75" fill="none"/>
<path d="M579.40 294.40v3.9M603.02 294.40v3.9M626.64 294.40v3.9M650.26 294.40v3.9M673.88 294.40v3.9" stroke="#4a4448" stroke-width="0.8" fill="none"/>
<rect x="617.94" y="293.21" width="4.30" height="2.02" rx="0.9" fill="#000"/>
<rect x="641.56" y="293.21" width="4.30" height="2.02" rx="0.9" fill="#000"/>
<rect x="665.18" y="293.21" width="4.30" height="2.02" rx="0.9" fill="#000"/>
<text x="621.40" y="209.20" font-size="8.9" text-anchor="middle" font-style="italic">DYNC1H1_site 1</text>
<text transform="translate(545.00 252.35) rotate(-90)" font-size="8.4" text-anchor="middle">Indel (%)</text>
<rect x="39.2" y="6.5" width="11.8" height="6.0" fill="#d8d8d7" stroke="#1a1a1a" stroke-width="0.8"/>
<text x="57.30" y="12.40" font-size="8.5" text-anchor="start" >OgeuIscB/ωRNA</text>
<rect x="177.8" y="6.5" width="11.8" height="6.0" fill="#faa4a4" stroke="#1a1a1a" stroke-width="0.8"/>
<text x="195.40" y="12.40" font-size="8.5" text-anchor="start" >enOgeuIscB/ωRNA-v2</text>
<rect x="329.2" y="6.5" width="11.8" height="6.0" fill="#109af4" stroke="#1a1a1a" stroke-width="0.8"/>
<text x="346.30" y="12.40" font-size="8.5" text-anchor="start" >enOgeuIscB/ωRNA-v13</text>
<rect x="39.2" y="184.2" width="11.8" height="6.0" fill="#d8d8d7" stroke="#1a1a1a" stroke-width="0.8"/>
<text x="57.30" y="190.60" font-size="8.5" text-anchor="start" >OgeuIscB/ωRNA</text>
<rect x="177.8" y="184.2" width="11.8" height="6.0" fill="#faa4a4" stroke="#1a1a1a" stroke-width="0.8"/>
<text x="195.40" y="190.60" font-size="8.5" text-anchor="start" >enOgeuIscB/ωRNA-v2</text>
<rect x="329.2" y="184.2" width="11.8" height="6.0" fill="#109af4" stroke="#1a1a1a" stroke-width="0.8"/>
<text x="346.30" y="190.60" font-size="8.5" text-anchor="start" >enOgeuIscB/ωRNA-v13</text>
<text x="-0.80" y="7.30" font-size="14" text-anchor="start" font-weight="bold">a</text>
<text x="-0.30" y="185.60" font-size="14" text-anchor="start" font-weight="bold">b</text>
</svg>
</body></html>
